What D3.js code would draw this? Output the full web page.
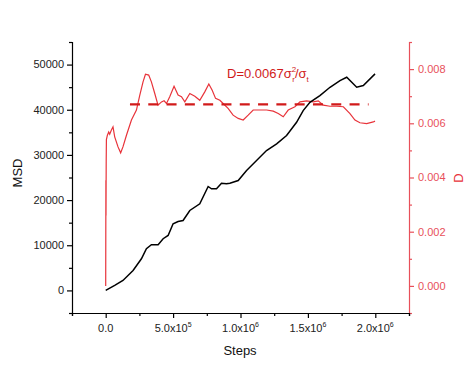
<!DOCTYPE html>
<html>
<head>
  <meta charset="utf-8">
  <title></title>
  <style>
    body,html{
      margin:0;
      padding:0;
      background:#fff;
      font-family: "Liberation Sans", Arial, sans-serif;
    }
  </style>
</head>
<body>
  <div id="container"></div>
  <script src="https://d3js.org/d3.v7.min.js"></script>
  <script type="text/javascript">

    // MSD (black, left axis)
    var msdSteps = [0, 66800, 128000, 203000, 265000, 302000, 339000, 389000, 426000, 463000, 500000, 537000, 574000, 624000, 698000, 760000, 785000, 822000, 859000, 896000, 921000, 983000, 1045000, 1119000, 1193000, 1268000, 1342000, 1416000, 1465000, 1515000, 1589000, 1664000, 1738000, 1788000, 1862000, 1911000, 1998000];
    var msdValues = [0, 1106, 2212, 4425, 7013, 9226, 10110, 10110, 11440, 12170, 14760, 15270, 15490, 17700, 19180, 23010, 22500, 22500, 23740, 23600, 23740, 24340, 26550, 28760, 30970, 32460, 34290, 37230, 39820, 41660, 43140, 44980, 46460, 47190, 44980, 45350, 47940];

    // D (red, right axis)
    var dSteps = [0, 1500, 2200, 3700, 5200, 12600, 22300, 29700, 42300, 54200, 66800, 91400, 111000, 128000, 154000, 191000, 228000, 253000, 277000, 295000, 319000, 339000, 364000, 388000, 414000, 433000, 451000, 475000, 507000, 537000, 562000, 587000, 624000, 661000, 698000, 735000, 765000, 790000, 815000, 847000, 871000, 908000, 945000, 983000, 1020000, 1057000, 1094000, 1144000, 1194000, 1243000, 1280000, 1317000, 1354000, 1404000, 1441000, 1491000, 1540000, 1577000, 1614000, 1664000, 1713000, 1763000, 1812000, 1849000, 1886000, 1936000, 1985000, 1998000];
    var dValues = [0.0000, 0.0039, 0.0026, 0.0046, 0.0054, 0.00556, 0.00568, 0.0056, 0.00575, 0.00587, 0.0055, 0.00513, 0.00491, 0.00513, 0.00556, 0.00612, 0.00649, 0.00704, 0.00753, 0.00781, 0.00778, 0.00753, 0.0071, 0.00667, 0.00679, 0.00683, 0.00673, 0.00698, 0.00737, 0.00704, 0.00698, 0.00679, 0.0071, 0.007, 0.00685, 0.00716, 0.00745, 0.00722, 0.00692, 0.00685, 0.00673, 0.00655, 0.0063, 0.00618, 0.00612, 0.0063, 0.00649, 0.00649, 0.00649, 0.00645, 0.00636, 0.00624, 0.00649, 0.00661, 0.00679, 0.00683, 0.00679, 0.00683, 0.00667, 0.00663, 0.00663, 0.00661, 0.00636, 0.00612, 0.00602, 0.00599, 0.00605, 0.00608];

    // fitted D
    var fitD = 0.0067;
    var fitRange = [180000, 1950000];

    var xTicks = [0, 500000, 1000000, 1500000, 2000000];
    var xTickMant = ['0.0', '5.0', '1.0', '1.5', '2.0'];
    var xTickExp = ['', '5', '6', '6', '6'];
    var msdTicks = [0, 10000, 20000, 30000, 40000, 50000];
    var dTicks = [0, 0.002, 0.004, 0.006, 0.008];

    var W = 474, H = 371;
    var m = {left:72, right:409, top:42, bottom:313};
    var red = '#e8333a', redDark = '#d11a1a', redAxis = '#e8505a';

    var svg = d3.select('#container').append('svg').attr('width', W).attr('height', H);

    var x = d3.scaleLinear().domain([-250000, 2250000]).range([m.left, m.right]);
    var yL = d3.scaleLinear().domain([-5000, 55000]).range([m.bottom, m.top]);
    var yR = d3.scaleLinear().domain([-0.001, 0.009]).range([m.bottom, m.top]);

    // left axis
    var gL = svg.append('g').attr('transform', 'translate(' + m.left + ',0)');
    gL.call(d3.axisLeft(yL).tickValues(d3.range(-5000, 55001, 5000)).tickSize(3).tickFormat(''));
    gL.call(function(g){
      g.selectAll('.tick line').filter(function(d){ return msdTicks.indexOf(d) >= 0; }).attr('x2', -5);
    });
    gL.selectAll('.domain, line').attr('stroke', '#000').attr('stroke-width', 1.2);
    gL.selectAll('.lbl').data(msdTicks).enter().append('text')
      .attr('x', -8).attr('y', function(d){ return yL(d); }).attr('dy', '0.35em')
      .attr('text-anchor', 'end').attr('font-size', 11).attr('fill', '#222')
      .text(function(d){ return d; });

    // right axis
    var gR = svg.append('g').attr('transform', 'translate(' + m.right + ',0)');
    gR.call(d3.axisRight(yR).tickValues(d3.range(-0.001, 0.0091, 0.001)).tickSize(3).tickFormat(''));
    gR.selectAll('.tick line').filter(function(d,i){ return i % 2 == 1; }).attr('x2', 5);
    gR.selectAll('.domain, line').attr('stroke', redAxis).attr('stroke-width', 1.2);
    gR.selectAll('.lbl').data(dTicks).enter().append('text')
      .attr('x', 9).attr('y', function(d){ return yR(d); }).attr('dy', '0.35em')
      .attr('font-size', 11).attr('fill', redAxis)
      .text(function(d){ return d3.format('.3f')(d); });

    // bottom axis
    var gB = svg.append('g').attr('transform', 'translate(0,' + m.bottom + ')');
    gB.call(d3.axisBottom(x).tickValues(d3.range(-250000, 2250001, 250000)).tickSize(3).tickFormat(''));
    gB.selectAll('.tick line').filter(function(d){ return xTicks.indexOf(Math.round(d)) >= 0; }).attr('y2', 5);
    gB.selectAll('.domain, line').attr('stroke', '#000').attr('stroke-width', 1.2);
    var xl = gB.selectAll('.lbl').data(xTicks).enter().append('text')
      .attr('x', function(d){ return x(d); }).attr('y', 19)
      .attr('text-anchor', 'middle').attr('font-size', 11).attr('fill', '#222');
    xl.append('tspan').text(function(d,i){ return xTickMant[i] + (xTickExp[i] ? 'x10' : ''); });
    xl.append('tspan').attr('font-size', 7).attr('dy', -5).text(function(d,i){ return xTickExp[i]; });

    // axis titles
    svg.append('text').attr('transform', 'translate(22,173) rotate(-90)')
      .attr('text-anchor', 'middle').attr('font-size', 13).attr('fill', '#111').text('MSD');
    svg.append('text').attr('transform', 'translate(463,178) rotate(-90)')
      .attr('text-anchor', 'middle').attr('font-size', 13).attr('fill', red).text('D');
    svg.append('text').attr('x', 240).attr('y', 355)
      .attr('text-anchor', 'middle').attr('font-size', 13).attr('fill', '#111').text('Steps');

    // D curve
    var lineD = d3.line().x(function(d){ return x(d[0]); }).y(function(d){ return yR(d[1]); });
    svg.append('path').datum(d3.zip(dSteps, dValues))
      .attr('fill', 'none').attr('stroke', red).attr('stroke-width', 1.2).attr('d', lineD);

    // fit line
    svg.append('line')
      .attr('x1', x(fitRange[0])).attr('x2', x(fitRange[1]))
      .attr('y1', yR(fitD)).attr('y2', yR(fitD))
      .attr('stroke', redDark).attr('stroke-width', 2.4).attr('stroke-dasharray', '10,8.3');

    // MSD curve
    var lineM = d3.line().x(function(d){ return x(d[0]); }).y(function(d){ return yL(d[1]); });
    svg.append('path').datum(d3.zip(msdSteps, msdValues))
      .attr('fill', 'none').attr('stroke', '#000').attr('stroke-width', 1.5).attr('d', lineM);

    // annotation
    var ann = svg.append('text').attr('x', 227).attr('y', 78).attr('font-size', 13).attr('fill', redDark);
    ann.append('tspan').text('D=0.0067σ');
    ann.append('tspan').attr('font-size', 8).attr('dy', -6).text('2');
    ann.append('tspan').attr('font-size', 8).attr('dx', -4).attr('dy', 10).text('r');
    ann.append('tspan').attr('dy', -4).text('/σ');
    ann.append('tspan').attr('font-size', 8).attr('dy', 4).text('t');

  </script>
</body>
</html>
